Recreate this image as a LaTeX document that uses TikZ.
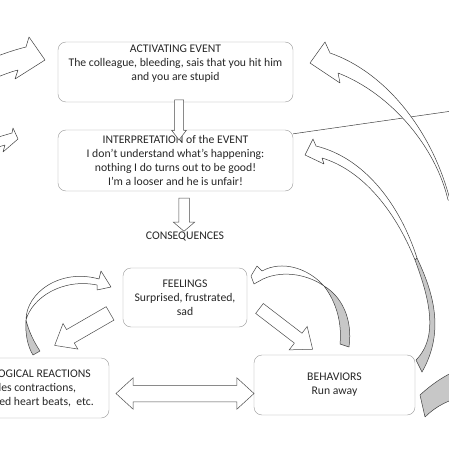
\documentclass[tikz,border=0pt]{standalone}
\usepackage{fontspec}
\setmainfont{Carlito}
\usetikzlibrary{shapes.arrows}

\begin{document}
\begin{tikzpicture}
            [x=1pt, y=-1pt,
             box/.style={draw=black!40, rounded corners=8pt, align=center, inner sep=0pt,
                         text=black!85, font=\fontsize{11.7}{14}\selectfont},
             blockarrow/.style={single arrow, draw=black!70, fill=white, line width=0.5pt, inner xsep=0pt},
             curvedarrow/.style={draw=black!75, fill=white, line width=0.5pt, line join=round},
             backside/.style={draw=black!75, fill=black!22, line width=0.5pt, line join=round}]
            % Frame of the picture
            \useasboundingbox (0,0) rectangle (449,449);
            \clip (0,0) rectangle (449,449);

            % Draw the boxes
            \node[box, minimum width=235pt, minimum height=60pt] (activating) at (175.5,72)
                {ACTIVATING EVENT\\The colleague, bleeding, sais that you hit him\\and you are stupid\\\strut};
            \node[box, minimum width=235pt, minimum height=61pt] (interp) at (175.5,160.5)
                {INTERPRETATION of the EVENT\\I don’t understand what’s happening:\\nothing I do turns out to be good!\\I’m a looser and he is unfair!};
            \node[box, minimum width=124pt, minimum height=59pt] (feelings) at (185,297.5)
                {FEELINGS\\Surprised, frustrated,\\sad};
            \node[box, minimum width=169pt, minimum height=60pt] (physio) at (24.5,388)
                {PHYSIOLOGICAL REACTIONS\\Muscles contractions,\\Accelerated heart beats,~ etc.};
            \node[box, minimum width=161pt, minimum height=60pt] (behaviors) at (334.5,385)
                {BEHAVIORS\\Run away};
            \node[box, draw=none] (consequences) at (185,236) {CONSEQUENCES};

            % Straight block arrows
            \node[blockarrow, rotate=-90, minimum height=40pt, inner ysep=4.25pt,
                  single arrow head extend=2.75pt, single arrow tip angle=75] (actint) at (179,117) {};
            \node[blockarrow, rotate=-90, minimum height=33pt, inner ysep=5pt,
                  single arrow head extend=5.5pt, single arrow tip angle=99] (intcons) at (184,212.5) {};
            \node[blockarrow, rotate=210, minimum height=64pt, inner ysep=7.5pt,
                  single arrow head extend=7pt, single arrow tip angle=78] (feelphys) at (86.5,327) {};
            \node[blockarrow, rotate=-37.5, minimum height=67pt, inner ysep=6pt,
                  single arrow head extend=8.5pt, single arrow tip angle=78] (feelbeh) at (283,326.5) {};
            \node[double arrow, draw=black!70, fill=white, line width=0.5pt, inner xsep=0pt,
                  minimum height=138pt, inner ysep=8pt, double arrow head extend=7.5pt,
                  double arrow tip angle=85] (physbeh) at (185,393.5) {};

            % Line to the right side
            \coordinate (offright) at (452,111);
            \draw[black!75, line width=0.5pt] ([yshift=-4pt]interp.north east) -- (offright);

            % Arrows coming in from the left
            \draw[curvedarrow] (-5,57) .. controls (8,52) and (18,49) .. (26,47) -- (29,37) -- (45,60)
                -- (15,79) -- (18,70) .. controls (10,72) and (3,75) .. (-5,78) -- cycle;
            \draw[curvedarrow] (-5,138) -- (12,133) -- (13,128) -- (18,139) -- (3,152) -- (5,145) -- (-5,148) -- cycle;

            % Curved arrow from behaviors to activating event
            \draw[curvedarrow] (330,53) .. controls (385,72) and (432,130) .. (450,200)
                -- (448,200) .. controls (436,148) and (392,94) .. (338,73) -- (340,83) -- (310,63) -- (325,42) -- cycle;
            \draw[backside] (420,395) .. controls (432,384) and (445,375) .. (462,368)
                -- (466,396) .. controls (450,399) and (436,406) .. (425,417) -- cycle;

            % Curved arrow from behaviors to interpretation
            \draw[curvedarrow] (316,146) .. controls (365,158) and (400,205) .. (417,258)
                -- (415,260) .. controls (395,210) and (362,170) .. (322,158) -- (324,164) -- (305,155) -- (313,139) -- cycle;
            \draw[backside] (417,258) .. controls (432,290) and (446,330) .. (422,372)
                -- (416,360) .. controls (440,336) and (428,295) .. (415,260) -- cycle;

            % Curved arrow from behaviors to feelings
            \draw[backside] (324,286) .. controls (341,296) and (353,318) .. (349,347)
                -- (340,344) .. controls (342,324) and (337,303) .. (324,286) -- cycle;
            \draw[curvedarrow] (324,286) .. controls (308,268) and (282,260) .. (262,271) -- (257,266) -- (251,276)
                -- (254,284) -- (263,279) .. controls (285,269) and (310,276) .. (324,286) -- cycle;

            % Curved arrow from physiological reactions to feelings
            \draw[backside] (26,320) .. controls (25,335) and (28,347) .. (33,355)
                -- (40,351) .. controls (34,342) and (29,332) .. (26,320) -- cycle;
            \draw[curvedarrow] (26,320) .. controls (26,293) and (60,268) .. (99,279) -- (101,271) -- (111,287)
                -- (97,290) -- (97,285) .. controls (62,278) and (32,298) .. (26,320) -- cycle;
        \end{tikzpicture}
\end{document}
